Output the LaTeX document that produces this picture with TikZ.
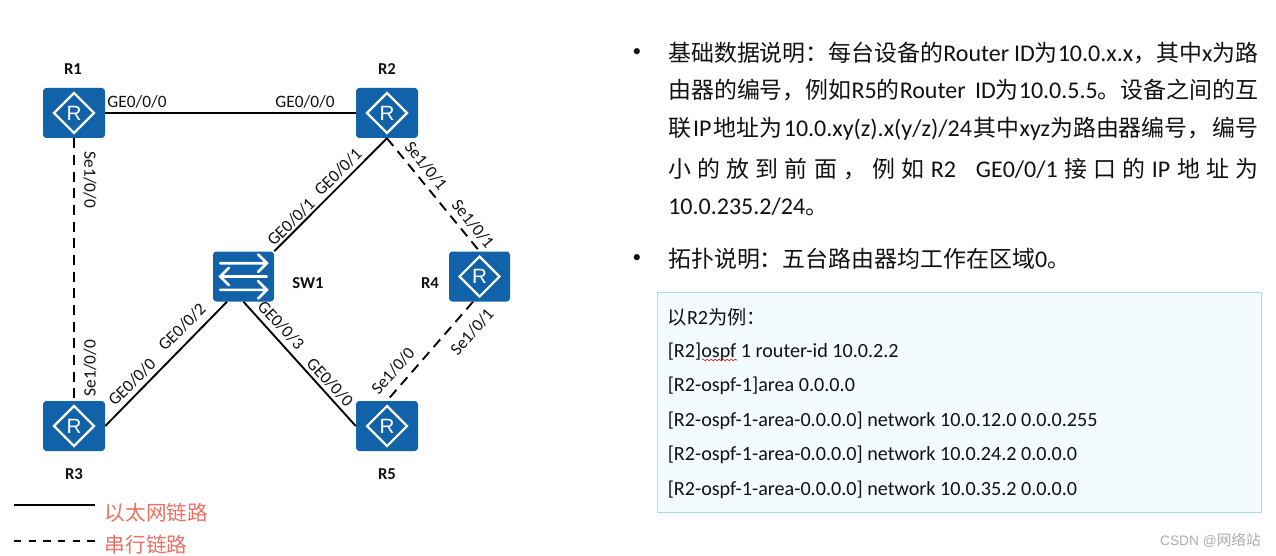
\documentclass[tikz,border=0pt]{standalone}
\usepackage{fontspec}
\setmainfont{Carlito}
\newfontfamily\cjk[Scale=0.955]{Noto Sans CJK SC}
\newfontfamily\iconfont{Liberation Sans}
\usetikzlibrary{decorations.pathmorphing}
\definecolor{devblue}{HTML}{1262AA}
\definecolor{boxfill}{HTML}{F3FBFF}
\definecolor{boxline}{HTML}{A6DCEF}
\definecolor{legred}{HTML}{EC7063}
\definecolor{txt}{HTML}{111111}
\tikzset{
  x=0.75pt,y=-0.75pt,
  router/.style={draw=none,fill=devblue,rounded corners=2.5pt,minimum width=46.5pt,minimum height=37.5pt,inner sep=0pt},
  switchbox/.style={draw=none,fill=devblue,rounded corners=2.5pt,minimum width=45.75pt,minimum height=37.5pt,inner sep=0pt},
  eth/.style={draw=black,line width=1.4pt},
  ser/.style={draw=black,line width=1.4pt,dash pattern=on 7.5pt off 5pt},
  legser/.style={draw=black,line width=1.5pt,dash pattern=on 5.5pt off 5.5pt},
  port/.style={font=\fontsize{13pt}{15pt}\selectfont,text=txt,inner sep=0pt},
  devname/.style={font=\fontsize{12.5pt}{15pt}\selectfont\bfseries,text=txt,inner sep=0pt},
  body/.style={font=\fontsize{18pt}{21pt}\selectfont,text=txt,anchor=west,inner sep=0pt},
  bulletmark/.style={font=\fontsize{13pt}{15pt}\selectfont,text=txt,anchor=center,inner sep=0pt},
  code/.style={font=\fontsize{15.1pt}{18pt}\selectfont,text=txt,anchor=west,inner sep=0pt},
  legend/.style={font=\cjk\fontsize{16.2pt}{19pt}\selectfont,text=legred,anchor=west,inner sep=0pt},
  arrowline/.style={white,line width=2pt,line cap=round,line join=miter},
}
\newcommand{\rsym}[1]{%
  \draw[white,line width=1.6pt] ([xshift=-15pt]#1.center) -- ([yshift=-15pt]#1.center) -- ([xshift=15pt]#1.center) -- ([yshift=15pt]#1.center) -- cycle;
  \node[text=white,inner sep=0pt,font=\iconfont\fontsize{15.5pt}{16pt}\selectfont] at (#1.center) {R};
}
\begin{document}
\begin{tikzpicture}
\useasboundingbox (0,0) rectangle (1276,556);
% nodes
\node[router] (R1) at (74,113) {};
\node[router] (R2) at (387,113) {};
\node[router] (R3) at (74,426) {};
\node[router] (R5) at (387,426) {};
\node[switchbox] (R4) at (479.5,276.5) {};
\node[switchbox] (SW) at (243.5,276.5) {};
% links
\draw[eth] (R1) -- (R2);
\draw[eth] (R2.south) -- (SW.north east);
\draw[eth] (R3.east) -- ([xshift=-12.4pt]SW.south);
\draw[eth] (SW.south) -- (R5.west);
\draw[ser] (R1.south) -- (R3.north);
\draw[ser] (R2.south) -- (R4.north);
\draw[ser] ([xshift=-4.9pt]R4.south) -- (R5.north);
% icons
\rsym{R1}\rsym{R2}\rsym{R3}\rsym{R4}\rsym{R5}
\draw[arrowline] ([shift={(-17.5pt,10pt)}]SW.center) -- ([shift={(17.5pt,10pt)}]SW.center) ([shift={(11pt,3.5pt)}]SW.center) -- ([shift={(17.5pt,10pt)}]SW.center) -- ([shift={(11pt,16.5pt)}]SW.center);
\draw[arrowline] ([shift={(-17.5pt,0pt)}]SW.center) -- ([shift={(17.5pt,0pt)}]SW.center) ([shift={(-11pt,-6.5pt)}]SW.center) -- ([shift={(-17.5pt,0pt)}]SW.center) -- ([shift={(-11pt,6.5pt)}]SW.center);
\draw[arrowline] ([shift={(-17.5pt,-10pt)}]SW.center) -- ([shift={(17.5pt,-10pt)}]SW.center) ([shift={(11pt,-16.5pt)}]SW.center) -- ([shift={(17.5pt,-10pt)}]SW.center) -- ([shift={(11pt,-3.5pt)}]SW.center);
% device names
\node[devname] (nR1) at (73,69) {R1};
\node[devname] (nR2) at (387,69) {R2};
\node[devname] (nR3) at (74,474) {R3};
\node[devname] (nR5) at (387,474) {R5};
\node[devname] (nR4) at (430,283) {R4};
\node[devname] (nSW) at (308,283) {SW1};
% ports
\node[port] (p1) at (137,102) {GE0/0/0};
\node[port] (p2) at (305,102) {GE0/0/0};
\node[port,rotate=-90] (p3) at (90,180) {Se1/0/0};
\node[port,rotate=90] (p4) at (90,368) {Se1/0/0};
\node[port,rotate=45] (p5) at (338,172) {GE0/0/1};
\node[port,rotate=45] (p6) at (291,222) {GE0/0/1};
\node[port,rotate=45] (p7) at (132,382) {GE0/0/0};
\node[port,rotate=45] (p8) at (182,327) {GE0/0/2};
\node[port,rotate=-47] (p9) at (281,325) {GE0/0/3};
\node[port,rotate=-47] (p10) at (330,382) {GE0/0/0};
\node[port,rotate=-51] (p11) at (426,166) {Se1/0/1};
\node[port,rotate=-51] (p12) at (473,224) {Se1/0/1};
\node[port,rotate=49] (p13) at (393,371) {Se1/0/0};
\node[port,rotate=49] (p14) at (472,332) {Se1/0/1};
% bullet text
\node[bulletmark] (b1) at (637,53) {•};
\node[bulletmark] (b2) at (637,259) {•};
\node[body] (t1) at (668,53) {\makebox[442.5pt][s]{\cjk 基础数据说明：每台设备的\normalfont Router ID\cjk 为\normalfont 10.0.x.x\cjk ，\hfil 其中\normalfont x\cjk 为路}};
\node[body] (t2) at (668,90) {\makebox[442.5pt][s]{\cjk 由器的编号，例如\normalfont R5\cjk 的\normalfont Router\ \ ID\cjk 为\normalfont 10.0.5.5\cjk 。\hfil 设备之间的互}};
\node[body] (t3) at (668,129) {\makebox[442.5pt][s]{\cjk 联\hfil\normalfont IP\cjk\hfil 地址为\hfil\normalfont 10.0.xy(z).x(y/z)/24\cjk\hfil 其中\normalfont xyz\cjk 为路由器编号，\hfil 编号}};
\node[body] (t4) at (668,169) {\makebox[442.5pt][s]{\cjk 小 的 放 到 前 面 ， 例 如 \normalfont R2\ \ \ GE0/0/1 \cjk 接 口 的 \normalfont IP \cjk 地 址 为}};
\node[body] (t5) at (668,207) {10.0.235.2/24\cjk 。};
\node[body] (t6) at (668,259) {\cjk 拓扑说明：五台路由器均工作在区域\normalfont 0\cjk 。};
% code box
\node[draw=boxline,fill=boxfill,line width=0.75pt,minimum width=453pt,minimum height=165.4pt,inner sep=0pt,anchor=north west] (box) at (657,291.5) {};
\node[code] (c1) at (667.5,317) {\cjk 以\normalfont R2\cjk 为例：};
\node[code] (c2) at (667.5,352) {[R2]ospf 1 router-id 10.0.2.2};
\node[code] (c3) at (667.5,386) {[R2-ospf-1]area 0.0.0.0};
\node[code] (c4) at (667.5,421) {[R2-ospf-1-area-0.0.0.0] network 10.0.12.0 0.0.0.255};
\node[code] (c5) at (667.5,455) {[R2-ospf-1-area-0.0.0.0] network 10.0.24.2 0.0.0.0};
\node[code] (c6) at (667.5,490) {[R2-ospf-1-area-0.0.0.0] network 10.0.35.2 0.0.0.0};
\draw[red!75!black,line width=0.4pt,decorate,decoration={snake,amplitude=0.6pt,segment length=3pt}] (702,360) -- (737,360);
% legend
\coordinate (l1a) at (14,505); \coordinate (l1b) at (95,505);
\coordinate (l2a) at (14,541); \coordinate (l2b) at (95,541);
\draw[eth,line width=1.5pt] (l1a) -- (l1b);
\draw[legser] (l2a) -- (l2b);
\node[legend] (lg1) at (104.5,513) {以太网链路};
\node[legend] (lg2) at (104.5,545) {串行链路};
% watermark
\node[font=\iconfont\fontsize{10.3pt}{12pt}\selectfont,text=gray!65,anchor=east,inner sep=0pt] (wm) at (1261,540) {CSDN @\cjk\fontsize{11.5pt}{12pt}\selectfont 网络站};
\end{tikzpicture}
\end{document}
